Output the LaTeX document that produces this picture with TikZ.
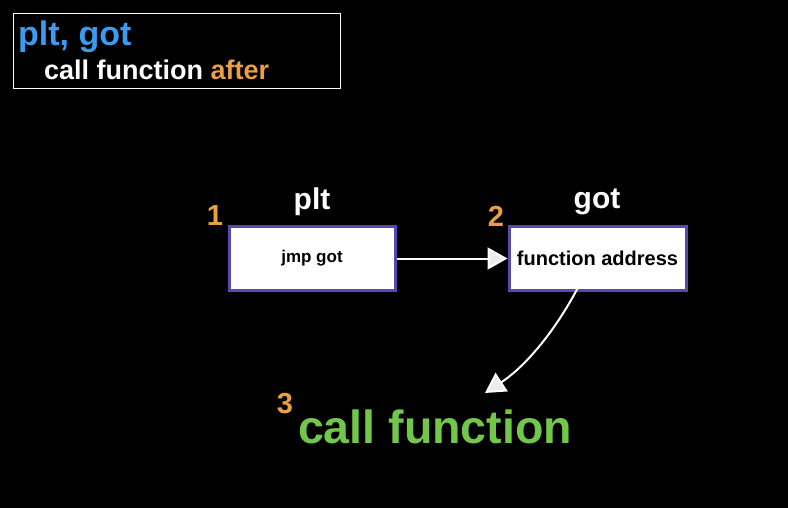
\documentclass[tikz,border=0pt]{standalone}
\usepackage{fontspec}
\setmainfont{Liberation Sans}
\usetikzlibrary{arrows.meta}
\definecolor{tblue}{HTML}{3A9BF0}
\definecolor{torange}{HTML}{E8A040}
\definecolor{tgreen}{HTML}{72C64A}
\definecolor{tpurple}{HTML}{5A48B0}
\begin{document}
\begin{tikzpicture}[x=1pt,y=-1pt,
  box/.style={draw=tpurple,line width=3pt,fill=white,minimum width=166pt,minimum height=63pt,inner sep=0pt,font=\bfseries\fontsize{17}{19}\selectfont},
  num/.style={text=torange,font=\bfseries\fontsize{29}{31}\selectfont,inner sep=0pt},
  lab/.style={text=white,font=\bfseries\fontsize{30}{32}\selectfont,inner sep=0pt},
  arr/.style={draw=white,line width=2pt,-{Triangle[length=20pt,width=22pt,fill=white!85!gray]}}]
\fill[black] (0,0) rectangle (788,508);
\useasboundingbox (0,0) rectangle (788,508);
\node[draw=white,line width=1pt,minimum width=327pt,minimum height=75pt,inner sep=0pt] (title) at (176.5,51.5) {};
\node[anchor=west,text=tblue,inner sep=0pt,font=\bfseries\fontsize{34}{36}\selectfont] (t1) at (18,37) {plt, got};
\node[anchor=west,text=white,inner sep=0pt,font=\bfseries\fontsize{27}{29}\selectfont] (t2) at (44,70) {call function \textcolor{torange}{after}};
\node[box] (plt) at (312,258.5) {jmp got};
\node[box,minimum width=177pt,font=\bfseries\fontsize{20}{22}\selectfont] (got) at (597.5,258.5) {function address};
\node[lab] (pltl) at (312,202) {plt};
\node[lab] (gotl) at (597,202) {got};
\node[num] (n1) at (215,216) {1};
\node[num] (n2) at (496,216) {2};
\node[num] (n3) at (285,404) {3};
\node[text=tgreen,inner sep=0pt,font=\bfseries\fontsize{46.5}{48}\selectfont] (cf) at (435,427) {call function};
\draw[arr] (plt.east) -- (got.west);
\coordinate (c3) at (485,393);
\draw[arr] ([xshift=-20pt,yshift=3pt]got.south) .. controls (550,340) and (520,370) .. (c3);
\end{tikzpicture}
\end{document}
